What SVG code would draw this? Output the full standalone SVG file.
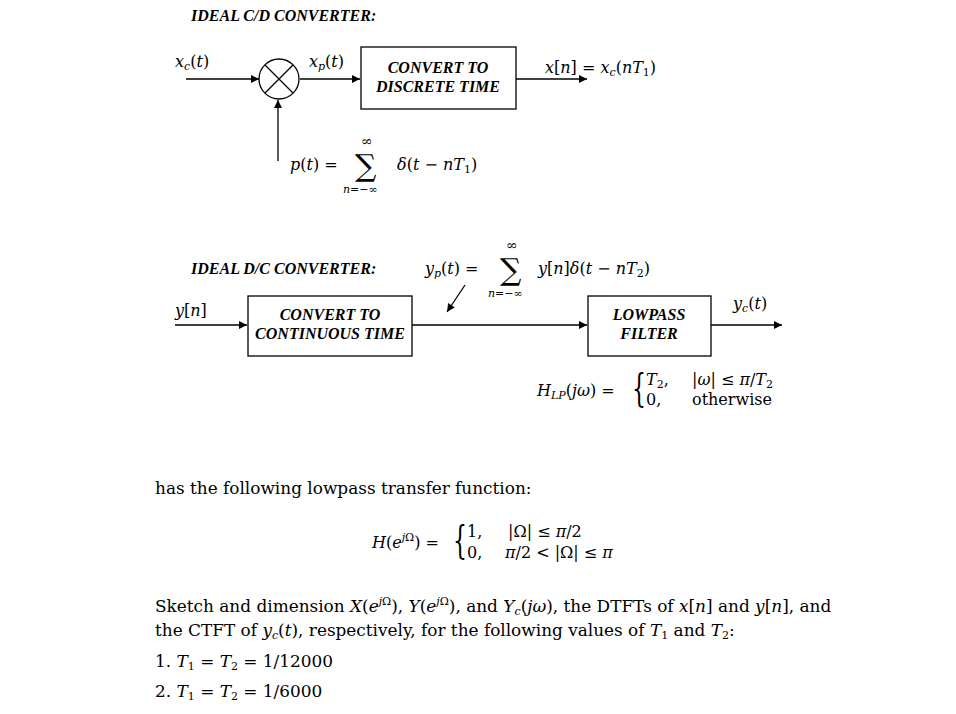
<svg xmlns="http://www.w3.org/2000/svg" width="956" height="714" viewBox="0 0 956 714">
<style>
.t{font-family:"DejaVu Serif",serif;font-size:16px;fill:#000}
.p{font-size:16.9px}
.i{font-style:italic}
.b{font-family:"Liberation Serif",serif;font-weight:bold;font-style:italic;font-size:16px;text-anchor:middle}
.h{font-family:"Liberation Serif",serif;font-weight:bold;font-style:italic;font-size:16px}
.s{font-size:11px}
.inf{font-size:14px}
.box{fill:#fff;stroke:#000;stroke-width:1.3}
.ln{stroke:#000;stroke-width:1.3;fill:none}
</style>
<defs><marker id="a" viewBox="0 0 10 10" refX="10" refY="5" markerWidth="10" markerHeight="8" markerUnits="userSpaceOnUse" orient="auto"><path d="M0,0L10,5L0,10z"/></marker></defs>
<text class="h" x="191" y="21">IDEAL C/D CONVERTER:</text>
<text class="h" x="191" y="274">IDEAL D/C CONVERTER:</text>
<g id="connectors">
<line class="ln" x1="186" y1="79" x2="259" y2="79" marker-end="url(#a)"/>
<line class="ln" x1="300" y1="79" x2="360" y2="79" marker-end="url(#a)"/>
<line class="ln" x1="516" y1="79" x2="587" y2="79" marker-end="url(#a)"/>
<line class="ln" x1="278" y1="161" x2="278" y2="100" marker-end="url(#a)"/>
<line class="ln" x1="175" y1="325" x2="247" y2="325" marker-end="url(#a)"/>
<line class="ln" x1="412" y1="325" x2="587" y2="325" marker-end="url(#a)"/>
<line class="ln" x1="711" y1="325" x2="782" y2="325" marker-end="url(#a)"/>
<line class="ln" x1="465" y1="285" x2="447" y2="312" marker-end="url(#a)"/>
</g>
<g id="mult"><circle class="box" cx="279" cy="79" r="20"/><path class="ln" d="M265,65L293,93M293,65L265,93"/></g>
<g id="cd"><rect class="box" x="361" y="47" width="155" height="62"/><text class="b" x="438" y="73">CONVERT TO</text><text class="b" x="438" y="92">DISCRETE TIME</text></g>
<g id="dc"><rect class="box" x="248" y="296" width="164" height="60"/><text class="b" x="330" y="320">CONVERT TO</text><text class="b" x="330" y="339">CONTINUOUS TIME</text></g>
<g id="lpf"><rect class="box" x="588" y="296" width="123" height="60"/><text class="b" x="649" y="320">LOWPASS</text><text class="b" x="649" y="339">FILTER</text></g>
<text class="t" x="175" y="67"><tspan class="i">x</tspan><tspan class="i s" dy="3">c</tspan><tspan dy="-3">(</tspan><tspan class="i">t</tspan>)</text>
<text class="t" x="309" y="67"><tspan class="i">x</tspan><tspan class="i s" dy="3">p</tspan><tspan dy="-3">(</tspan><tspan class="i">t</tspan>)</text>
<text class="t" x="545" y="73"><tspan class="i">x</tspan>[<tspan class="i">n</tspan>] = <tspan class="i">x</tspan><tspan class="i s" dy="3">c</tspan><tspan dy="-3">(</tspan><tspan class="i">nT</tspan><tspan class="s" dy="3">1</tspan><tspan dy="-3">)</tspan></text>
<text class="t" x="290" y="170"><tspan class="i">p</tspan>(<tspan class="i">t</tspan>) =</text>
<text class="t" x="355" y="176" style="font-size:30px">∑</text>
<text class="t inf" x="361" y="146">∞</text>
<text class="t s" x="343" y="193"><tspan class="i">n</tspan>=−∞</text>
<text class="t" x="397" y="170"><tspan class="i">δ</tspan>(<tspan class="i">t</tspan> − <tspan class="i">nT</tspan><tspan class="s" dy="3">1</tspan><tspan dy="-3">)</tspan></text>
<text class="t" x="425" y="274"><tspan class="i">y</tspan><tspan class="i s" dy="3">p</tspan><tspan dy="-3">(</tspan><tspan class="i">t</tspan>) =</text>
<text class="t" x="500" y="280" style="font-size:30px">∑</text>
<text class="t inf" x="506" y="250">∞</text>
<text class="t s" x="488" y="297"><tspan class="i">n</tspan>=−∞</text>
<text class="t" x="538" y="274"><tspan class="i">y</tspan>[<tspan class="i">n</tspan>]<tspan class="i">δ</tspan>(<tspan class="i">t</tspan> − <tspan class="i">nT</tspan><tspan class="s" dy="3">2</tspan><tspan dy="-3">)</tspan></text>
<text class="t" x="175" y="316"><tspan class="i">y</tspan>[<tspan class="i">n</tspan>]</text>
<text class="t" x="733" y="309"><tspan class="i">y</tspan><tspan class="i s" dy="3">c</tspan><tspan dy="-3">(</tspan><tspan class="i">t</tspan>)</text>
<text class="t" x="537" y="396"><tspan class="i">H</tspan><tspan class="i s" dy="3">LP</tspan><tspan dy="-3">(</tspan><tspan class="i">jω</tspan>) =</text>
<text class="t" transform="translate(632,401) scale(1,1.8)" style="font-size:22px">{</text>
<text class="t" x="646" y="385"><tspan class="i">T</tspan><tspan class="s" dy="3">2</tspan><tspan dy="-3">,</tspan></text>
<text class="t" x="692" y="385">|<tspan class="i">ω</tspan>| ≤ <tspan class="i">π</tspan>/<tspan class="i">T</tspan><tspan class="s" dy="3">2</tspan></text>
<text class="t" x="646" y="405">0,</text>
<text class="t" x="692" y="405">otherwise</text>
<text class="t p" x="155" y="494">has the following lowpass transfer function:</text>
<text class="t" x="372" y="548"><tspan class="i">H</tspan>(<tspan class="i">e</tspan><tspan class="i s" dy="-7">j</tspan><tspan class="s">Ω</tspan><tspan dy="7">) =</tspan></text>
<text class="t" transform="translate(453,553) scale(1,1.8)" style="font-size:22px">{</text>
<text class="t" x="467" y="537">1,</text>
<text class="t" x="508" y="537">|Ω| ≤ <tspan class="i">π</tspan>/2</text>
<text class="t" x="467" y="558">0,</text>
<text class="t" x="505" y="558"><tspan class="i">π</tspan>/2 &lt; |Ω| ≤ <tspan class="i">π</tspan></text>
<text class="t p" x="155" y="612">Sketch and dimension <tspan class="i">X</tspan>(<tspan class="i">e</tspan><tspan class="i s" dy="-7">j</tspan><tspan class="s">Ω</tspan><tspan dy="7">), </tspan><tspan class="i">Y</tspan>(<tspan class="i">e</tspan><tspan class="i s" dy="-7">j</tspan><tspan class="s">Ω</tspan><tspan dy="7">), and </tspan><tspan class="i">Y</tspan><tspan class="i s" dy="3">c</tspan><tspan dy="-3">(</tspan><tspan class="i">jω</tspan>), the DTFTs of <tspan class="i">x</tspan>[<tspan class="i">n</tspan>] and <tspan class="i">y</tspan>[<tspan class="i">n</tspan>], and</text>
<text class="t p" x="155" y="636">the CTFT of <tspan class="i">y</tspan><tspan class="i s" dy="3">c</tspan><tspan dy="-3">(</tspan><tspan class="i">t</tspan>), respectively, for the following values of <tspan class="i">T</tspan><tspan class="s" dy="3">1</tspan><tspan dy="-3"> and </tspan><tspan class="i">T</tspan><tspan class="s" dy="3">2</tspan><tspan dy="-3">:</tspan></text>
<text class="t p" x="155" y="667">1. <tspan class="i">T</tspan><tspan class="s" dy="3">1</tspan><tspan dy="-3"> = </tspan><tspan class="i">T</tspan><tspan class="s" dy="3">2</tspan><tspan dy="-3"> = 1/12000</tspan></text>
<text class="t p" x="155" y="697">2. <tspan class="i">T</tspan><tspan class="s" dy="3">1</tspan><tspan dy="-3"> = </tspan><tspan class="i">T</tspan><tspan class="s" dy="3">2</tspan><tspan dy="-3"> = 1/6000</tspan></text>
</svg>
